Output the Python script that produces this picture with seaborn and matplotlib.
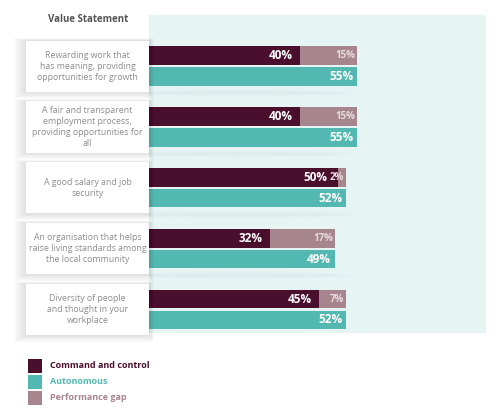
import numpy as np
import pandas as pd
import matplotlib
matplotlib.use("Agg")
import matplotlib.pyplot as plt
import matplotlib.transforms as mtransforms
from matplotlib.patches import Rectangle, Ellipse
import seaborn as sns

# data
statements = [
    "Rewarding work that\nhas meaning, providing\nopportunities for growth",
    "A fair and transparent\nemployment process,\nproviding opportunities for\nall",
    "A good salary and job\nsecurity",
    "An organisation that helps\nraise living standards among\nthe local community",
    "Diversity of people\nand thought in your\nworkplace",
]
command_control = [40, 40, 50, 32, 45]
autonomous = [55, 55, 52, 49, 52]
performance_gap = [15, 15, 2, 17, 7]
series_names = ["Command and control", "Autonomous", "Performance gap"]

cols = ["#4a0f2d", "#53b8b1", "#a6858f"]
panel_col = "#e6f4f4"
label_grey = "#8c8c8c"

sns.set_theme(style="white")
plt.rcParams["font.family"] = ["Open Sans", "DejaVu Sans"]

df = pd.DataFrame({
    "statement": statements * 2,
    "value": command_control + autonomous,
    "series": [series_names[0]] * 5 + [series_names[1]] * 5,
})

fig = plt.figure(figsize=(5, 4.08), dpi=100)
ax = fig.add_axes([0.298, 0.1838, 0.674, 0.7794])
ax.set_facecolor(panel_col)

sns.barplot(data=df, x="value", y="statement", hue="series", orient="h",
            palette=cols[:2], width=0.68, gap=0.1, ax=ax, legend=False,
            saturation=1)

cc_bars = ax.containers[0]
au_bars = ax.containers[1]
ys = [p.get_y() + p.get_height() / 2 for p in cc_bars]
h = cc_bars[0].get_height()
gap_bars = ax.barh(ys, performance_gap, left=command_control, height=h,
                   color=cols[2], linewidth=0)

for p in list(cc_bars) + list(au_bars) + list(gap_bars):
    p.set_linewidth(0)

# value labels
for p, v, g in zip(cc_bars, command_control, performance_gap):
    # narrow gap segment: its label spills left, so push this one over
    off = -5.5 if g >= 5 else -8
    ax.annotate(f"{v}%", (p.get_x() + p.get_width(), p.get_y() + p.get_height() / 2),
                xytext=(off, 0), textcoords="offset points", ha="right", va="center",
                color="white", fontsize=8.5, fontweight="bold")
for p, v in zip(au_bars, autonomous):
    ax.annotate(f"{v}%", (p.get_x() + p.get_width(), p.get_y() + p.get_height() / 2),
                xytext=(-2.5, 0), textcoords="offset points", ha="right", va="center",
                color="white", fontsize=8.5, fontweight="bold")
for p, v in zip(gap_bars, performance_gap):
    ax.annotate(f"{v}%", (p.get_x() + p.get_width(), p.get_y() + p.get_height() / 2),
                xytext=(-1.2, 0), textcoords="offset points", ha="right", va="center",
                color="#e8dbe0", fontsize=7, fontweight="bold")

# soft shadow under each group of bars
for i in range(len(statements)):
    for k, a in enumerate([0.05, 0.04, 0.03]):
        ax.add_patch(Ellipse((24, i + 0.44), 50 + k * 6, 0.05 + k * 0.04,
                             color="#9fb7b7", alpha=a, linewidth=0, zorder=0.5))

ax.set_xlim(0, 89)
ax.set_ylim(4.386, -0.84)
ax.set_xlabel("")
ax.set_ylabel("")
ax.set_xticks([])
ax.set_yticks([])
sns.despine(ax=ax, left=True, bottom=True)

# statement boxes on the left, with a soft shadow
trans = mtransforms.blended_transform_factory(fig.transFigure, ax.transData)
x0, x1 = 26 / 500, 149 / 500
for i, s in enumerate(statements):
    for k in range(10):
        fig.patches.append(Rectangle((x0 - 0.0025 * (k + 1), i - 0.42 - 0.004 * (k + 1)),
                                     (x1 - x0) + 0.0035 * (k + 1), 0.84 + 0.016 * (k + 1),
                                     transform=trans, color="#000000", alpha=0.011,
                                     linewidth=0, zorder=1))
    fig.patches.append(Rectangle((x0, i - 0.42), x1 - x0, 0.84, transform=trans,
                                 facecolor="white", edgecolor="none", zorder=2))
    fig.text((x0 + x1) / 2, i, s, transform=trans, ha="center", va="center",
             fontsize=6.3, color=label_grey, linespacing=1.3, zorder=3)

fig.text(88 / 500, 1 - 20 / 408, "Value Statement", ha="center", va="center",
         fontsize=7, fontweight="bold", color="#555555")

# legend
for j, name in enumerate(series_names):
    ytop = 359 + j * 16
    fig.patches.append(Rectangle((28 / 500, 1 - (ytop + 14) / 408), 14 / 500, 14 / 408,
                                 transform=fig.transFigure, facecolor=cols[j],
                                 edgecolor="none"))
    fig.text(50 / 500, 1 - (ytop + 7) / 408, name, ha="left", va="center",
             fontsize=6.5, fontweight="bold", color=cols[j])

fig.savefig("out.png", dpi=100)
